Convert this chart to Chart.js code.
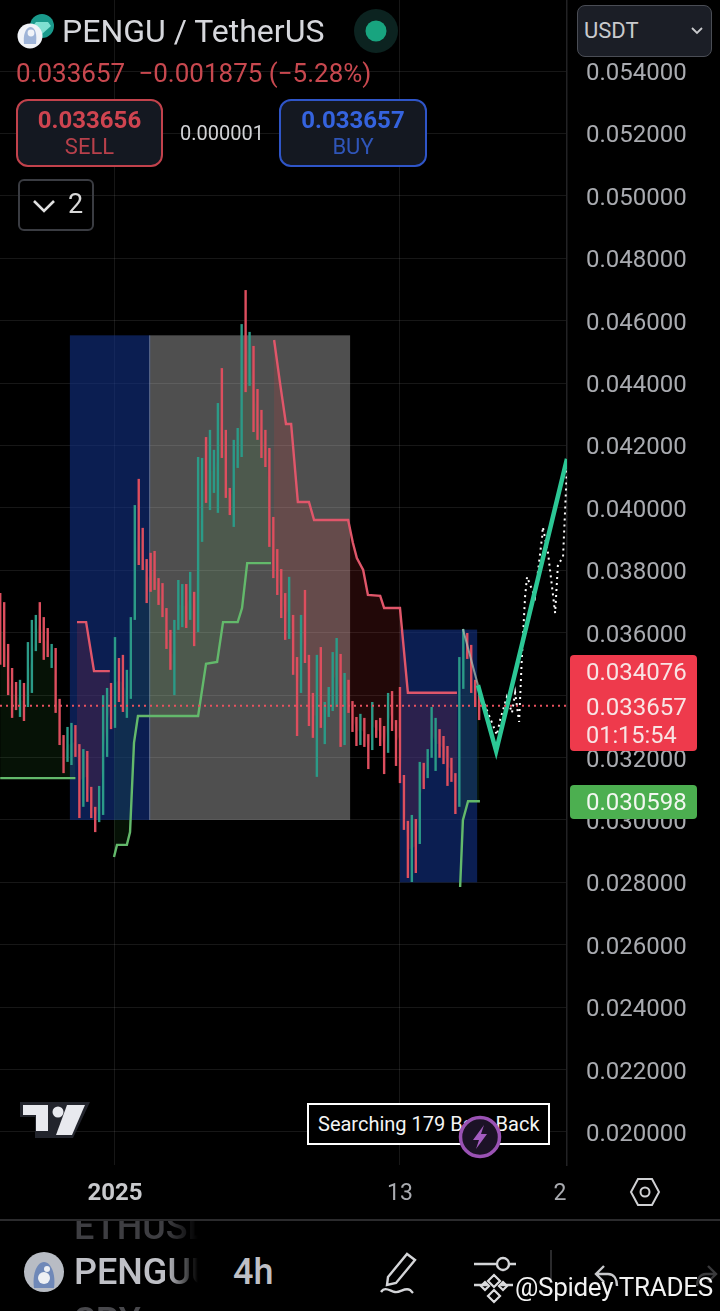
<!DOCTYPE html>
<html>
<head>
<meta charset="utf-8">
<title>PENGU / TetherUS</title>
<script src="https://cdn.jsdelivr.net/npm/chart.js@4/dist/chart.umd.js"></script>
<style>
  html, body { margin: 0; padding: 0; background: #000; width: 720px; height: 1311px; overflow: hidden; font-family: Roboto, sans-serif; }
  #stage { position: relative; width: 720px; height: 1311px; overflow: hidden; }
  canvas { position: absolute; left: 0; top: 0; }
  .t { position: absolute; white-space: nowrap; }
  .box { position: absolute; box-sizing: border-box; }
  .center { text-align: center; }
  svg { position: absolute; overflow: visible; }
</style>
</head>
<body>
<div id="stage">
  <canvas id="chart" width="720" height="1220"></canvas>

  <!-- Symbol header -->
  <svg style="left:0;top:0" width="120" height="60">
    <circle cx="42" cy="26" r="12" fill="#1a9a8c"/>
    <path d="M36 22h12l3 4-9 8-9-8z" fill="#7fe0d2"/>
    <circle cx="30" cy="36" r="12.5" fill="#f1f3f8"/>
    <path d="M24 44c-1-8 1-16 6-17 6 0 7 8 6 17z" fill="#9fb4d8"/>
    <circle cx="31" cy="33" r="3.4" fill="#f1f3f8"/>
  </svg>
  <div class="t" style="left:62px;top:13px;font-size:32px;line-height:36px;color:#d6d7dc">PENGU / TetherUS</div>
  <svg style="left:354px;top:9px" width="44" height="44">
    <circle cx="22" cy="22" r="22" fill="#0c2320"/>
    <circle cx="22" cy="22" r="10.5" fill="#18a47f"/>
  </svg>
  <div class="t" id="lastLine" style="left:16px;top:58px;font-size:26px;line-height:30px;color:#c8484f"></div>

  <div class="box" style="left:16px;top:99px;width:147px;height:68px;border:2px solid #c2424c;border-radius:12px;background:#141821"></div>
  <div class="t center" style="left:16px;top:106px;width:147px;font-size:24px;line-height:28px;font-weight:700;color:#cf4450">0.033656</div>
  <div class="t center" style="left:16px;top:134px;width:147px;font-size:22px;line-height:26px;color:#b8404b">SELL</div>
  <div class="t" style="left:180px;top:121px;font-size:20px;line-height:24px;color:#d2d3d6">0.000001</div>
  <div class="box" style="left:279px;top:99px;width:148px;height:68px;border:2px solid #2f55c8;border-radius:12px;background:#141821"></div>
  <div class="t center" style="left:279px;top:106px;width:148px;font-size:24px;line-height:28px;font-weight:700;color:#3563de">0.033657</div>
  <div class="t center" style="left:279px;top:134px;width:148px;font-size:22px;line-height:26px;color:#2f55b8">BUY</div>

  <div class="box" style="left:18px;top:179px;width:76px;height:52px;border:2px solid #3a3c42;border-radius:6px"></div>
  <svg style="left:32px;top:198px" width="24" height="16"><path d="M2 3l10 10 10-10" fill="none" stroke="#e0e0e0" stroke-width="2.6"/></svg>
  <div class="t" style="left:68px;top:188px;font-size:27px;line-height:32px;color:#d8d8d8">2</div>

  <div class="box" style="left:577px;top:5px;width:135px;height:52px;border:1.5px solid #4a4d55;border-radius:8px;background:#1b1e26"></div>
  <div class="t" style="left:584px;top:18px;font-size:22px;line-height:26px;color:#c9cacd">USDT</div>
  <svg style="left:691px;top:27px" width="12" height="8"><path d="M1 1l5 5 5-5" fill="none" stroke="#c9cacd" stroke-width="1.8"/></svg>

  <!-- Price tags on the right axis -->
  <div class="box" style="left:570px;top:655px;width:127px;height:96px;background:#ee3a4c;border-radius:4px"></div>
  <div class="t" id="tagStop" style="left:586px;top:658px;font-size:24px;line-height:28px;color:#f8e4e4"></div>
  <div class="t" id="tagLast" style="left:586px;top:693px;font-size:24px;line-height:28px;color:#f8e4e4"></div>
  <div class="t" style="left:586px;top:722px;font-size:23.5px;line-height:26px;color:#f8e4e4">01:15:54</div>
  <div class="box" style="left:570px;top:785px;width:127px;height:34px;background:#4caf50;border-radius:4px"></div>
  <div class="t" id="tagTrend" style="left:586px;top:788px;font-size:24px;line-height:28px;color:#f2f7f0"></div>

  <!-- Logo, scan status and lightning badge -->
  <svg style="left:0;top:1095px" width="100" height="50">
    <path d="M20 7h70l-17 36H35V22H20z" fill="#22242c"/>
    <path d="M23 10h25v26H36V20H23z" fill="#e8e9ee"/>
    <circle cx="58" cy="17" r="5.5" fill="#e8e9ee"/>
    <path d="M67 10h18L72 40H56z" fill="#e8e9ee"/>
  </svg>
  <div class="box" style="left:307px;top:1103px;width:243px;height:42px;border:2px solid #fff;background:#000"></div>
  <div class="t" style="left:318px;top:1112px;font-size:20px;line-height:24px;color:#f4f4f4">Searching 179 Bars Back</div>
  <svg style="left:458px;top:1115px" width="44" height="44">
    <circle cx="22" cy="22" r="19.5" fill="#1c1226" stroke="#9a52b4" stroke-width="3.5"/>
    <path d="M26 10L15 25h6l-3 9 11-15h-6z" fill="#a45cc0"/>
  </svg>

  <!-- Settings hexagon beside the time axis -->
  <svg style="left:630px;top:1177px" width="30" height="30">
    <path d="M8 2h14l7 13-7 13H8L1 15z" fill="none" stroke="#cfd0d3" stroke-width="2"/>
    <circle cx="15" cy="15" r="4.5" fill="none" stroke="#cfd0d3" stroke-width="2"/>
  </svg>

  <!-- Bottom toolbar -->
  <div class="box" style="left:0;top:1219px;width:720px;height:2px;background:#2b2b2d"></div>
  <div style="position:absolute;left:74px;top:1221px;width:124px;height:90px;overflow:hidden;-webkit-mask-image:linear-gradient(90deg,#000 75%,transparent)">
    <div class="t" style="left:0;top:-14px;font-size:36px;line-height:40px;font-weight:500;color:#3e3e42">ETHUSDT</div>
    <div class="t" style="left:0;top:31px;font-size:36px;line-height:40px;font-weight:500;color:#bfc0c6">PENGUUSDT</div>
    <div class="t" style="left:0;top:80px;font-size:36px;line-height:40px;font-weight:500;color:#48484c">SPY</div>
  </div>
  <svg style="left:24px;top:1252px" width="42" height="42">
    <circle cx="20" cy="20" r="20" fill="#b8bcc4"/>
    <path d="M10 36c-2-14 3-26 10-26s12 12 10 26z" fill="#6f88b8"/>
    <circle cx="20" cy="26" r="6" fill="#eef0f4"/>
    <circle cx="23" cy="17" r="3" fill="#eef0f4"/>
  </svg>
  <div class="t" style="left:233px;top:1252px;font-size:36px;line-height:40px;font-weight:500;color:#bfc0c6">4h</div>
  <svg style="left:378px;top:1250px" width="42" height="46">
    <path d="M10 27L29 4l8 6-19 23-9 2z" fill="none" stroke="#d4d5d8" stroke-width="2.4"/>
    <path d="M3 42c4-6 9-1 14 0s10-5 15-2l3 3" fill="none" stroke="#d4d5d8" stroke-width="2.4"/>
  </svg>
  <svg style="left:473px;top:1255px" width="45" height="46">
    <path d="M1 9h22M36 9h7" stroke="#d4d5d8" stroke-width="2.4" fill="none"/>
    <circle cx="30" cy="9" r="6" fill="none" stroke="#d4d5d8" stroke-width="2.4"/>
    <path d="M1 30h13M28 30h12" stroke="#d4d5d8" stroke-width="2.4" fill="none"/>
    <path d="M21 20l6 6-6 6-6-6zM12 27l4 4-4 4-4-4zM30 27l4 4-4 4-4-4zM21 35l6 6-6 6-6-6z" fill="none" stroke="#dcdcde" stroke-width="2.2"/>
  </svg>
  <div class="box" style="left:550px;top:1250px;width:1.5px;height:30px;background:#2a2a2c"></div>
  <svg style="left:594px;top:1264px" width="28" height="26">
    <path d="M10 2L2 10l8 8M2 10h12c6 0 9 5 9 12" fill="none" stroke="#c8c9cc" stroke-width="2.4"/>
  </svg>
  <svg style="left:694px;top:1264px" width="26" height="26">
    <path d="M14 2l8 8-8 8M22 10H12C6 10 3 15 3 22" fill="none" stroke="#3a3a3c" stroke-width="2.4"/>
  </svg>
  <div class="t" style="left:515px;top:1272px;font-size:26px;line-height:30px;color:#f2f2f2;letter-spacing:-.3px">@Spidey TRADES</div>
</div>

<script>
// Price axis ticks and time axis labels
const priceTicks = [0.020, 0.022, 0.024, 0.026, 0.028, 0.030, 0.032, 0.034, 0.036, 0.038, 0.040, 0.042, 0.044, 0.046, 0.048, 0.050, 0.052, 0.054];
const timeTicks = [0, 72, 112.4];
const timeLabels = ['2025', '13', '2'];
const gridlessTick = 112.4;

// Bar numbering: bar 0 opens the new year, candles run from bar -29 to bar 92
const firstBar = -29;
const candleHigh = [
  0.03727, 0.03698, 0.03564, 0.03487, 0.03442, 0.03449, 0.03439, 0.03570, 0.03641, 0.03657,
  0.03698, 0.03650, 0.03615, 0.03564, 0.03551, 0.03388, 0.03272, 0.03298, 0.03311, 0.03304,
  0.03243, 0.03227, 0.03221, 0.03106, 0.03042, 0.03109, 0.03400, 0.03423, 0.03439, 0.03586,
  0.03519, 0.03529, 0.03481, 0.03650, 0.04009, 0.04093, 0.03936, 0.03836, 0.03856, 0.03862,
  0.03775, 0.03759, 0.03679, 0.03609, 0.03641, 0.03769, 0.03756, 0.03756, 0.03795, 0.03731,
  0.04163, 0.04160, 0.04227, 0.04250, 0.04186, 0.04336, 0.04448, 0.04250, 0.04064, 0.04218,
  0.04256, 0.04589, 0.04698, 0.04564, 0.04519, 0.04381, 0.04314, 0.04250, 0.04192, 0.03971,
  0.03868, 0.03804, 0.03727, 0.03779, 0.03657, 0.03522, 0.03657, 0.03737, 0.03529, 0.03407,
  0.03529, 0.03554, 0.03378, 0.03426, 0.03538, 0.03583, 0.03532, 0.03471, 0.03449, 0.03381,
  0.03330, 0.03340, 0.03327, 0.03275, 0.03378, 0.03320, 0.03327, 0.03301, 0.03407, 0.03413,
  0.03320, 0.03426, 0.03144, 0.02997, 0.03016, 0.03003, 0.03186, 0.03183, 0.03227, 0.03362,
  0.03327, 0.03291, 0.03269, 0.03237, 0.03199, 0.03150, 0.03522, 0.03612, 0.03599, 0.03561,
  0.03449, 0.03423
];
const candleLow = [
  0.03497, 0.03490, 0.03400, 0.03327, 0.03352, 0.03330, 0.03317, 0.03362, 0.03407, 0.03541,
  0.03567, 0.03513, 0.03522, 0.03487, 0.03343, 0.03240, 0.03150, 0.03186, 0.03176, 0.03202,
  0.03006, 0.03042, 0.03058, 0.03006, 0.02961, 0.02993, 0.03016, 0.03202, 0.03291, 0.03295,
  0.03378, 0.03346, 0.03327, 0.03388, 0.03641, 0.03817, 0.03801, 0.03695, 0.03731, 0.03737,
  0.03689, 0.03650, 0.03548, 0.03481, 0.03400, 0.03609, 0.03618, 0.03615, 0.03641, 0.03557,
  0.03602, 0.03891, 0.04016, 0.03993, 0.04048, 0.03984, 0.04160, 0.04032, 0.03977, 0.03939,
  0.04128, 0.04163, 0.04371, 0.04391, 0.04243, 0.04218, 0.04160, 0.04131, 0.03875, 0.03775,
  0.03721, 0.03647, 0.03577, 0.03580, 0.03465, 0.03269, 0.03407, 0.03503, 0.03301, 0.03263,
  0.03138, 0.03295, 0.03243, 0.03330, 0.03349, 0.03362, 0.03234, 0.03240, 0.03343, 0.03282,
  0.03237, 0.03240, 0.03234, 0.03163, 0.03224, 0.03263, 0.03237, 0.03147, 0.03215, 0.03285,
  0.03173, 0.03118, 0.02968, 0.02814, 0.02801, 0.02830, 0.02923, 0.03099, 0.03134, 0.03199,
  0.03157, 0.03199, 0.03179, 0.03109, 0.03122, 0.03019, 0.03042, 0.03420, 0.03516, 0.03407,
  0.03362, 0.03320
];
// 1 for a rising candle, 0 for a falling one
const candleUp = [
  0, 0, 0, 0, 0, 1, 0, 1, 1, 1,
  0, 0, 0, 1, 0, 0, 0, 1, 1, 0,
  0, 1, 0, 0, 0, 1, 1, 1, 0, 1,
  0, 0, 1, 1, 1, 0, 0, 0, 0, 0,
  0, 0, 0, 0, 1, 1, 1, 0, 1, 0,
  1, 1, 0, 1, 1, 1, 0, 0, 0, 1,
  1, 1, 0, 1, 0, 0, 0, 0, 0, 0,
  0, 0, 0, 1, 0, 0, 1, 0, 0, 0,
  1, 0, 1, 1, 1, 1, 0, 1, 0, 0,
  0, 1, 0, 0, 1, 0, 0, 0, 1, 0,
  0, 0, 0, 0, 1, 0, 1, 0, 1, 1,
  1, 0, 0, 0, 0, 0, 1, 1, 0, 0,
  0, 0
];

// Last traded price and the two trailing stop levels shown on the axis
const lastPrice = 0.033657;
const lastChange = '\u22120.001875 (\u22125.28%)';
const stopLevel = 0.034076;
const trendLevel = 0.030598;

// Trailing stop legs as [bar, price]
const upperStopA = [[-9.6, 0.03634], [-7.3, 0.03634], [-5.3, 0.03477], [-1.3, 0.03477]];
const upperStopB = [[40.2, 0.04538], [41.7, 0.04400], [43.2, 0.04269], [44.5, 0.04269], [46.2, 0.04019], [49, 0.04019], [50.3, 0.03961], [58.9, 0.03961], [60.1, 0.03888], [61.1, 0.03839], [62.7, 0.03801], [63.9, 0.03721], [67, 0.03718], [68, 0.03679], [72, 0.03679], [74, stopLevel], [86.4, stopLevel]];
const lowerStopA = [[-29, 0.03134], [-10, 0.03134]];
const lowerStopB = [[-0.25, 0.02881], [0.5, 0.02920], [3, 0.02920], [3.8, 0.02961], [4.8, 0.03247], [5.8, 0.03333], [21, 0.03333], [23, 0.03500], [25.8, 0.03506], [27.3, 0.03634], [31, 0.03634], [32.1, 0.03679], [33.4, 0.03823], [39.4, 0.03823]];
const lowerStopC = [[87.2, 0.02785], [87.9, 0.02999], [89.2, trendLevel], [92.2, trendLevel]];

// Hand-drawn forecast: a faint lead-in, the bold swing and the dotted alternative
const forecastLead = [[87.9, 0.03612], [91.7, 0.03432]];
const forecastSwing = [[91.7, 0.03432], [96.3, 0.03221], [114.2, 0.04157]];
const forecastDotted = [[92.2, 0.03407], [96.5, 0.03272], [97.3, 0.03320], [99, 0.03394], [100.3, 0.03343], [101.1, 0.03407], [102.1, 0.03314], [102.8, 0.03522], [103.6, 0.03714], [104.1, 0.03779], [106.1, 0.03714], [107.9, 0.03907], [108.1, 0.03939], [109.4, 0.03856], [111.2, 0.03663], [111.9, 0.03817], [113.2, 0.03843], [114.2, 0.04131]];

// Highlighted zones: start bar, end bar, upper price, lower price
const zoneStart = [-11.4, 8.6, 72];
const zoneEnd = [8.9, 59.4, 91.5];
const zoneUpper = [0.04553, 0.04553, 0.0361];
const zoneLower = [0.0300, 0.0300, 0.0280];

const zoneFill = ['rgba(19,52,140,0.58)', 'rgba(255,255,255,0.31)', 'rgba(19,52,140,0.58)'];
const RED = '#dd4e5e', TEAL = '#2b9a87';

const toPoints = legs => legs.map(([x, y]) => ({ x, y }));
const barIndex = candleHigh.map((_, i) => firstBar + i);
const midIndex = 0;

const stopLine = (legs, color, tint) => ({
  type: 'line', data: toPoints(legs), borderColor: color, borderWidth: 2.4, pointRadius: 0, tension: 0, order: 3,
  fill: { target: midIndex, above: tint, below: tint }
});
const plainLine = (legs, color, width, dash) => ({
  type: 'line', data: toPoints(legs), borderColor: color, borderWidth: width, borderDash: dash || [],
  pointRadius: 0, tension: 0, fill: false, order: 0
});

// Tinted zones sit beneath every dataset
const zonesPlugin = {
  id: 'zones',
  beforeDatasetsDraw(chart) {
    const { ctx, chartArea: a, scales: { x, y } } = chart;
    ctx.save();
    ctx.beginPath(); ctx.rect(a.left, a.top, a.width, a.height); ctx.clip();
    zoneStart.forEach((s, i) => {
      const l = x.getPixelForValue(s), r = x.getPixelForValue(zoneEnd[i]);
      const t = y.getPixelForValue(zoneUpper[i]), b = y.getPixelForValue(zoneLower[i]);
      ctx.fillStyle = zoneFill[i];
      ctx.fillRect(l, t, r - l, b - t);
    });
    ctx.restore();
  }
};

new Chart(document.getElementById('chart'), {
  type: 'bar',
  data: {
    datasets: [
      // Candle midpoints, the invisible edge the stop shading fills up to
      { type: 'line', data: barIndex.map((x, i) => ({ x, y: (candleHigh[i] + candleLow[i]) / 2 })), borderColor: 'transparent', borderWidth: 0, pointRadius: 0, tension: 0, fill: false, order: 4 },
      stopLine(lowerStopA, '#63b96b', 'rgba(70,200,70,0.09)'),
      stopLine(upperStopA, '#e0566a', 'rgba(240,60,60,0.14)'),
      stopLine(lowerStopB, '#63b96b', 'rgba(70,200,70,0.09)'),
      stopLine(upperStopB, '#e0566a', 'rgba(240,60,60,0.14)'),
      stopLine(lowerStopC, '#63b96b', 'rgba(70,200,70,0.09)'),
      {
        type: 'bar',
        data: barIndex.map((x, i) => ({ x, y: [candleLow[i], candleHigh[i]] })),
        backgroundColor: candleUp.map(u => u ? TEAL : RED),
        barThickness: 2.4, inflateAmount: 0, order: 2
      },
      plainLine([[-29.055, lastPrice], [114.2, lastPrice]], '#e8525f', 2, [2, 4]),
      plainLine(forecastLead, 'rgba(170,190,175,0.75)', 2),
      plainLine(forecastSwing, '#2cc795', 4.5),
      plainLine(forecastDotted, '#ffffff', 2, [2, 4])
    ]
  },
  plugins: [zonesPlugin],
  options: {
    responsive: false,
    animation: false,
    events: [],
    layout: { padding: 0 },
    plugins: { legend: { display: false }, tooltip: { enabled: false } },
    scales: {
      x: {
        type: 'linear', min: -29.055, max: 114.2, position: 'bottom', offset: false,
        afterBuildTicks(s) { s.ticks = timeTicks.map(value => ({ value })); },
        afterFit(s) { s.height = 55; s.paddingLeft = 0; s.paddingRight = 0; },
        border: { display: false },
        grid: {
          offset: false,
          drawTicks: false,
          color: c => (c.tick && c.tick.value === gridlessTick) ? 'transparent' : 'rgba(255,255,255,0.09)'
        },
        ticks: {
          autoSkip: false, maxRotation: 0, padding: 15,
          color: c => c.index === 0 ? '#c8c9cc' : '#a9abb0',
          font: c => ({ family: 'Roboto', size: c.index === 0 ? 24 : 23, weight: c.index === 0 ? '700' : '400' }),
          callback: (v, i) => timeLabels[i]
        }
      },
      y: {
        type: 'linear', position: 'right', min: 0.018942, max: 0.056276,
        afterBuildTicks(s) { s.ticks = priceTicks.map(value => ({ value })); },
        afterFit(s) { s.width = 153; s.paddingTop = 0; s.paddingBottom = 0; },
        border: { display: true, color: '#222224', width: 1.5 },
        grid: { drawTicks: false, color: 'rgba(255,255,255,0.09)' },
        ticks: {
          autoSkip: false, crossAlign: 'near', padding: 19, labelOffset: 3, color: '#a9abb0',
          font: { family: 'Roboto', size: 24 },
          callback: v => v.toFixed(6)
        }
      }
    }
  }
});

document.getElementById('lastLine').textContent = lastPrice.toFixed(6) + '\u2002' + lastChange;
document.getElementById('tagStop').textContent = stopLevel.toFixed(6);
document.getElementById('tagLast').textContent = lastPrice.toFixed(6);
document.getElementById('tagTrend').textContent = trendLevel.toFixed(6);
</script>
</body>
</html>
